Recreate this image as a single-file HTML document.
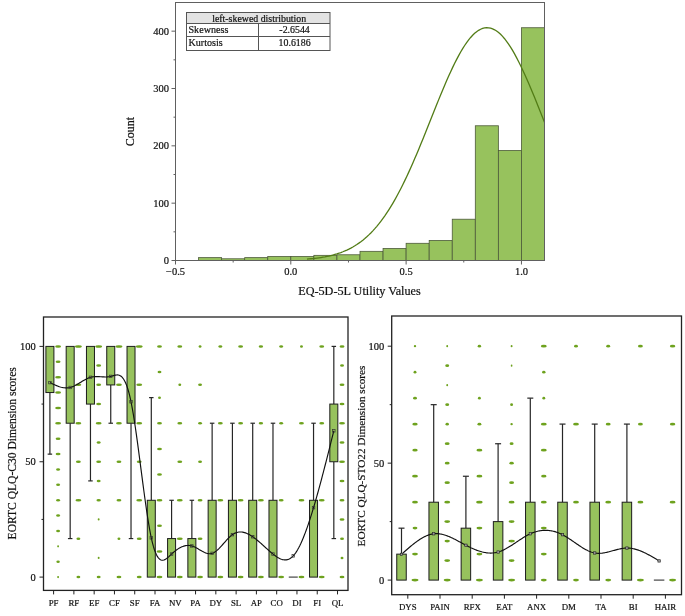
<!DOCTYPE html>
<html><head><meta charset="utf-8"><title>Figure</title>
<style>html,body{margin:0;padding:0;background:#fff}svg{display:block}</style></head>
<body><svg width="685" height="616" viewBox="0 0 685 616">
<rect width="685" height="616" fill="#fff"/>
<g id="top">
<rect x="198.56" y="257.63" width="23.06" height="2.87" fill="#97c25d" stroke="#4d5a3a" stroke-width="0.8"/>
<rect x="221.62" y="258.78" width="23.06" height="1.72" fill="#97c25d" stroke="#4d5a3a" stroke-width="0.8"/>
<rect x="244.69" y="257.63" width="23.06" height="2.87" fill="#97c25d" stroke="#4d5a3a" stroke-width="0.8"/>
<rect x="267.75" y="256.49" width="23.06" height="4.01" fill="#97c25d" stroke="#4d5a3a" stroke-width="0.8"/>
<rect x="290.81" y="256.49" width="23.06" height="4.01" fill="#97c25d" stroke="#4d5a3a" stroke-width="0.8"/>
<rect x="313.88" y="255.34" width="23.06" height="5.16" fill="#97c25d" stroke="#4d5a3a" stroke-width="0.8"/>
<rect x="336.94" y="254.77" width="23.06" height="5.73" fill="#97c25d" stroke="#4d5a3a" stroke-width="0.8"/>
<rect x="360.00" y="251.33" width="23.06" height="9.17" fill="#97c25d" stroke="#4d5a3a" stroke-width="0.8"/>
<rect x="383.06" y="248.46" width="23.06" height="12.04" fill="#97c25d" stroke="#4d5a3a" stroke-width="0.8"/>
<rect x="406.12" y="243.30" width="23.06" height="17.20" fill="#97c25d" stroke="#4d5a3a" stroke-width="0.8"/>
<rect x="429.19" y="240.43" width="23.06" height="20.07" fill="#97c25d" stroke="#4d5a3a" stroke-width="0.8"/>
<rect x="452.25" y="219.22" width="23.06" height="41.28" fill="#97c25d" stroke="#4d5a3a" stroke-width="0.8"/>
<rect x="475.31" y="125.77" width="23.06" height="134.73" fill="#97c25d" stroke="#4d5a3a" stroke-width="0.8"/>
<rect x="498.38" y="150.42" width="23.06" height="110.08" fill="#97c25d" stroke="#4d5a3a" stroke-width="0.8"/>
<rect x="521.44" y="27.73" width="23.06" height="232.77" fill="#97c25d" stroke="#4d5a3a" stroke-width="0.8"/>
<polyline points="306.96,259.11 308.95,258.95 310.95,258.76 312.94,258.56 314.94,258.34 316.94,258.09 318.93,257.82 320.93,257.52 322.93,257.19 324.92,256.84 326.92,256.44 328.91,256.02 330.91,255.55 332.91,255.04 334.90,254.49 336.90,253.89 338.89,253.24 340.89,252.53 342.89,251.76 344.88,250.94 346.88,250.05 348.88,249.09 350.87,248.06 352.87,246.95 354.86,245.77 356.86,244.50 358.86,243.14 360.85,241.69 362.85,240.14 364.85,238.50 366.84,236.75 368.84,234.90 370.83,232.93 372.83,230.86 374.83,228.66 376.82,226.35 378.82,223.92 380.81,221.36 382.81,218.67 384.81,215.86 386.80,212.92 388.80,209.84 390.80,206.64 392.79,203.31 394.79,199.84 396.78,196.25 398.78,192.53 400.78,188.68 402.77,184.71 404.77,180.63 406.76,176.43 408.76,172.12 410.76,167.70 412.75,163.19 414.75,158.59 416.75,153.90 418.74,149.14 420.74,144.31 422.73,139.42 424.73,134.49 426.73,129.52 428.72,124.53 430.72,119.52 432.71,114.52 434.71,109.52 436.71,104.56 438.70,99.63 440.70,94.75 442.70,89.94 444.69,85.21 446.69,80.58 448.68,76.05 450.68,71.66 452.68,67.39 454.67,63.29 456.67,59.34 458.66,55.58 460.66,52.01 462.66,48.64 464.65,45.49 466.65,42.57 468.65,39.88 470.64,37.44 472.64,35.26 474.63,33.35 476.63,31.70 478.63,30.33 480.62,29.25 482.62,28.46 484.62,27.95 486.61,27.73 488.61,27.81 490.60,28.18 492.60,28.85 494.60,29.80 496.59,31.03 498.59,32.55 500.58,34.34 502.58,36.40 504.58,38.72 506.57,41.29 508.57,44.10 510.57,47.15 512.56,50.42 514.56,53.90 516.55,57.57 518.55,61.43 520.55,65.47 522.54,69.66 524.54,74.00 526.53,78.46 528.53,83.05 530.53,87.73 532.52,92.51 534.52,97.36 536.52,102.26 538.51,107.21 540.51,112.20 542.50,117.20 544.50,122.21" fill="none" stroke="#527c16" stroke-width="1.3"/>
<rect x="175.5" y="2.5" width="369.0" height="258.0" fill="none" stroke="#606060" stroke-width="1"/>
<line x1="171.5" y1="260.50" x2="175.5" y2="260.50" stroke="#606060" stroke-width="1"/>
<text x="169.0" y="264.00" text-anchor="end" font-size="10.5" font-family="Liberation Serif, serif" stroke="#111" stroke-width="0.2" fill="#111">0</text>
<line x1="171.5" y1="203.17" x2="175.5" y2="203.17" stroke="#606060" stroke-width="1"/>
<text x="169.0" y="206.67" text-anchor="end" font-size="10.5" font-family="Liberation Serif, serif" stroke="#111" stroke-width="0.2" fill="#111">100</text>
<line x1="171.5" y1="145.83" x2="175.5" y2="145.83" stroke="#606060" stroke-width="1"/>
<text x="169.0" y="149.33" text-anchor="end" font-size="10.5" font-family="Liberation Serif, serif" stroke="#111" stroke-width="0.2" fill="#111">200</text>
<line x1="171.5" y1="88.50" x2="175.5" y2="88.50" stroke="#606060" stroke-width="1"/>
<text x="169.0" y="92.00" text-anchor="end" font-size="10.5" font-family="Liberation Serif, serif" stroke="#111" stroke-width="0.2" fill="#111">300</text>
<line x1="171.5" y1="31.17" x2="175.5" y2="31.17" stroke="#606060" stroke-width="1"/>
<text x="169.0" y="34.67" text-anchor="end" font-size="10.5" font-family="Liberation Serif, serif" stroke="#111" stroke-width="0.2" fill="#111">400</text>
<line x1="173.5" y1="231.83" x2="175.5" y2="231.83" stroke="#606060" stroke-width="1"/>
<line x1="173.5" y1="174.50" x2="175.5" y2="174.50" stroke="#606060" stroke-width="1"/>
<line x1="173.5" y1="117.17" x2="175.5" y2="117.17" stroke="#606060" stroke-width="1"/>
<line x1="173.5" y1="59.83" x2="175.5" y2="59.83" stroke="#606060" stroke-width="1"/>
<line x1="175.50" y1="260.5" x2="175.50" y2="264.5" stroke="#606060" stroke-width="1"/>
<text x="175.50" y="274.6" text-anchor="middle" font-size="10.5" font-family="Liberation Serif, serif" stroke="#111" stroke-width="0.2" fill="#111">−0.5</text>
<line x1="290.81" y1="260.5" x2="290.81" y2="264.5" stroke="#606060" stroke-width="1"/>
<text x="290.81" y="274.6" text-anchor="middle" font-size="10.5" font-family="Liberation Serif, serif" stroke="#111" stroke-width="0.2" fill="#111">0.0</text>
<line x1="406.12" y1="260.5" x2="406.12" y2="264.5" stroke="#606060" stroke-width="1"/>
<text x="406.12" y="274.6" text-anchor="middle" font-size="10.5" font-family="Liberation Serif, serif" stroke="#111" stroke-width="0.2" fill="#111">0.5</text>
<line x1="521.44" y1="260.5" x2="521.44" y2="264.5" stroke="#606060" stroke-width="1"/>
<text x="521.44" y="274.6" text-anchor="middle" font-size="10.5" font-family="Liberation Serif, serif" stroke="#111" stroke-width="0.2" fill="#111">1.0</text>
<line x1="233.16" y1="260.5" x2="233.16" y2="262.5" stroke="#606060" stroke-width="1"/>
<line x1="348.47" y1="260.5" x2="348.47" y2="262.5" stroke="#606060" stroke-width="1"/>
<line x1="463.78" y1="260.5" x2="463.78" y2="262.5" stroke="#606060" stroke-width="1"/>
<text x="359.5" y="294.6" text-anchor="middle" font-size="12.2" font-family="Liberation Serif, serif" stroke="#111" stroke-width="0.2" fill="#111">EQ-5D-5L Utility Values</text>
<text transform="translate(133.5,131.7) rotate(-90)" text-anchor="middle" font-size="12" font-family="Liberation Serif, serif" stroke="#111" stroke-width="0.2" fill="#111">Count</text>
<rect x="186.5" y="12.5" width="143.5" height="11" fill="#e3e3e3"/>
<rect x="186.5" y="12.5" width="143.5" height="38" fill="none" stroke="#555" stroke-width="1"/>
<line x1="186.5" y1="23.5" x2="330" y2="23.5" stroke="#555" stroke-width="1"/>
<line x1="186.5" y1="36.5" x2="330" y2="36.5" stroke="#555" stroke-width="1"/>
<line x1="258.5" y1="23.5" x2="258.5" y2="50.5" stroke="#555" stroke-width="1"/>
<text x="259.2" y="21.7" text-anchor="middle" font-size="9.9" font-family="Liberation Serif, serif" stroke="#111" stroke-width="0.2" fill="#111">left-skewed distribution</text>
<text x="188.5" y="33.0" font-size="10.1" font-family="Liberation Serif, serif" stroke="#111" stroke-width="0.2" fill="#111">Skewness</text>
<text x="188.5" y="46.4" font-size="10.1" font-family="Liberation Serif, serif" stroke="#111" stroke-width="0.2" fill="#111">Kurtosis</text>
<text x="294.6" y="33.0" text-anchor="middle" font-size="9.9" font-family="Liberation Serif, serif" stroke="#111" stroke-width="0.2" fill="#111">-2.6544</text>
<text x="294.6" y="46.4" text-anchor="middle" font-size="9.9" font-family="Liberation Serif, serif" stroke="#111" stroke-width="0.2" fill="#111">10.6186</text>
</g>
<g id="left">
<ellipse cx="58.10" cy="346.40" rx="2.95" ry="1.25" fill="#6ea21e"/>
<ellipse cx="58.10" cy="361.78" rx="2.45" ry="1.25" fill="#6ea21e"/>
<ellipse cx="58.10" cy="377.16" rx="2.95" ry="1.25" fill="#6ea21e"/>
<ellipse cx="58.10" cy="392.54" rx="2.95" ry="1.25" fill="#6ea21e"/>
<ellipse cx="58.10" cy="407.92" rx="2.95" ry="1.25" fill="#6ea21e"/>
<ellipse cx="58.10" cy="423.30" rx="2.95" ry="1.25" fill="#6ea21e"/>
<ellipse cx="58.10" cy="438.68" rx="2.45" ry="1.25" fill="#6ea21e"/>
<ellipse cx="58.10" cy="454.06" rx="2.45" ry="1.25" fill="#6ea21e"/>
<ellipse cx="58.10" cy="469.44" rx="1.95" ry="1.25" fill="#6ea21e"/>
<ellipse cx="58.10" cy="484.82" rx="1.95" ry="1.25" fill="#6ea21e"/>
<ellipse cx="58.10" cy="500.20" rx="1.95" ry="1.25" fill="#6ea21e"/>
<ellipse cx="58.10" cy="515.58" rx="1.95" ry="1.25" fill="#6ea21e"/>
<ellipse cx="58.10" cy="530.96" rx="1.95" ry="1.25" fill="#6ea21e"/>
<ellipse cx="58.10" cy="546.34" rx="0.95" ry="1.05" fill="#6ea21e"/>
<ellipse cx="58.10" cy="561.72" rx="1.70" ry="1.25" fill="#6ea21e"/>
<ellipse cx="58.10" cy="577.10" rx="0.95" ry="1.05" fill="#6ea21e"/>
<ellipse cx="78.38" cy="346.40" rx="3.45" ry="1.25" fill="#6ea21e"/>
<ellipse cx="78.38" cy="384.85" rx="2.95" ry="1.25" fill="#6ea21e"/>
<ellipse cx="78.38" cy="423.30" rx="2.95" ry="1.25" fill="#6ea21e"/>
<ellipse cx="78.38" cy="461.75" rx="2.45" ry="1.25" fill="#6ea21e"/>
<ellipse cx="78.38" cy="500.20" rx="2.95" ry="1.25" fill="#6ea21e"/>
<ellipse cx="78.38" cy="538.65" rx="1.95" ry="1.25" fill="#6ea21e"/>
<ellipse cx="78.38" cy="577.10" rx="1.95" ry="1.25" fill="#6ea21e"/>
<ellipse cx="98.66" cy="346.40" rx="3.45" ry="1.25" fill="#6ea21e"/>
<ellipse cx="98.66" cy="365.62" rx="2.45" ry="1.25" fill="#6ea21e"/>
<ellipse cx="98.66" cy="384.85" rx="2.45" ry="1.25" fill="#6ea21e"/>
<ellipse cx="98.66" cy="404.07" rx="2.45" ry="1.25" fill="#6ea21e"/>
<ellipse cx="98.66" cy="423.30" rx="2.95" ry="1.25" fill="#6ea21e"/>
<ellipse cx="98.66" cy="442.52" rx="1.95" ry="1.25" fill="#6ea21e"/>
<ellipse cx="98.66" cy="461.75" rx="2.45" ry="1.25" fill="#6ea21e"/>
<ellipse cx="98.66" cy="480.98" rx="1.95" ry="1.25" fill="#6ea21e"/>
<ellipse cx="98.66" cy="500.20" rx="2.20" ry="1.25" fill="#6ea21e"/>
<ellipse cx="98.66" cy="519.42" rx="0.95" ry="1.05" fill="#6ea21e"/>
<ellipse cx="98.66" cy="557.88" rx="0.95" ry="1.05" fill="#6ea21e"/>
<ellipse cx="98.66" cy="577.10" rx="1.95" ry="1.25" fill="#6ea21e"/>
<ellipse cx="118.94" cy="346.40" rx="3.45" ry="1.25" fill="#6ea21e"/>
<ellipse cx="118.94" cy="384.85" rx="2.95" ry="1.25" fill="#6ea21e"/>
<ellipse cx="118.94" cy="423.30" rx="2.95" ry="1.25" fill="#6ea21e"/>
<ellipse cx="118.94" cy="461.75" rx="2.45" ry="1.25" fill="#6ea21e"/>
<ellipse cx="118.94" cy="500.20" rx="2.45" ry="1.25" fill="#6ea21e"/>
<ellipse cx="118.94" cy="538.65" rx="1.45" ry="1.25" fill="#6ea21e"/>
<ellipse cx="118.94" cy="577.10" rx="2.45" ry="1.25" fill="#6ea21e"/>
<ellipse cx="139.22" cy="346.40" rx="3.45" ry="1.25" fill="#6ea21e"/>
<ellipse cx="139.22" cy="384.85" rx="2.95" ry="1.25" fill="#6ea21e"/>
<ellipse cx="139.22" cy="423.30" rx="2.95" ry="1.25" fill="#6ea21e"/>
<ellipse cx="139.22" cy="461.75" rx="2.45" ry="1.25" fill="#6ea21e"/>
<ellipse cx="139.22" cy="500.20" rx="2.95" ry="1.25" fill="#6ea21e"/>
<ellipse cx="139.22" cy="538.65" rx="2.45" ry="1.25" fill="#6ea21e"/>
<ellipse cx="139.22" cy="577.10" rx="2.45" ry="1.25" fill="#6ea21e"/>
<ellipse cx="159.50" cy="346.40" rx="2.45" ry="1.25" fill="#6ea21e"/>
<ellipse cx="159.50" cy="372.03" rx="1.95" ry="1.25" fill="#6ea21e"/>
<ellipse cx="159.50" cy="397.67" rx="1.45" ry="1.25" fill="#6ea21e"/>
<ellipse cx="159.50" cy="423.30" rx="2.45" ry="1.25" fill="#6ea21e"/>
<ellipse cx="159.50" cy="448.93" rx="2.45" ry="1.25" fill="#6ea21e"/>
<ellipse cx="159.50" cy="474.57" rx="2.45" ry="1.25" fill="#6ea21e"/>
<ellipse cx="159.50" cy="500.20" rx="2.95" ry="1.25" fill="#6ea21e"/>
<ellipse cx="159.50" cy="525.83" rx="2.45" ry="1.25" fill="#6ea21e"/>
<ellipse cx="159.50" cy="551.47" rx="2.95" ry="1.25" fill="#6ea21e"/>
<ellipse cx="159.50" cy="577.10" rx="2.95" ry="1.25" fill="#6ea21e"/>
<ellipse cx="179.78" cy="346.40" rx="2.45" ry="1.25" fill="#6ea21e"/>
<ellipse cx="179.78" cy="384.85" rx="1.45" ry="1.25" fill="#6ea21e"/>
<ellipse cx="179.78" cy="423.30" rx="2.45" ry="1.25" fill="#6ea21e"/>
<ellipse cx="179.78" cy="461.75" rx="2.45" ry="1.25" fill="#6ea21e"/>
<ellipse cx="179.78" cy="500.20" rx="2.95" ry="1.25" fill="#6ea21e"/>
<ellipse cx="179.78" cy="538.65" rx="2.95" ry="1.25" fill="#6ea21e"/>
<ellipse cx="179.78" cy="577.10" rx="2.95" ry="1.25" fill="#6ea21e"/>
<ellipse cx="200.06" cy="346.40" rx="1.45" ry="1.25" fill="#6ea21e"/>
<ellipse cx="200.06" cy="384.85" rx="1.95" ry="1.25" fill="#6ea21e"/>
<ellipse cx="200.06" cy="423.30" rx="1.95" ry="1.25" fill="#6ea21e"/>
<ellipse cx="200.06" cy="461.75" rx="1.95" ry="1.25" fill="#6ea21e"/>
<ellipse cx="200.06" cy="500.20" rx="2.45" ry="1.25" fill="#6ea21e"/>
<ellipse cx="200.06" cy="538.65" rx="2.45" ry="1.25" fill="#6ea21e"/>
<ellipse cx="200.06" cy="577.10" rx="2.95" ry="1.25" fill="#6ea21e"/>
<ellipse cx="220.34" cy="346.40" rx="1.95" ry="1.25" fill="#6ea21e"/>
<ellipse cx="220.34" cy="423.30" rx="2.45" ry="1.25" fill="#6ea21e"/>
<ellipse cx="220.34" cy="500.20" rx="2.95" ry="1.25" fill="#6ea21e"/>
<ellipse cx="220.34" cy="577.10" rx="2.95" ry="1.25" fill="#6ea21e"/>
<ellipse cx="240.62" cy="346.40" rx="2.45" ry="1.25" fill="#6ea21e"/>
<ellipse cx="240.62" cy="423.30" rx="2.45" ry="1.25" fill="#6ea21e"/>
<ellipse cx="240.62" cy="500.20" rx="2.95" ry="1.25" fill="#6ea21e"/>
<ellipse cx="240.62" cy="577.10" rx="2.95" ry="1.25" fill="#6ea21e"/>
<ellipse cx="260.90" cy="346.40" rx="2.20" ry="1.25" fill="#6ea21e"/>
<ellipse cx="260.90" cy="423.30" rx="2.20" ry="1.25" fill="#6ea21e"/>
<ellipse cx="260.90" cy="500.20" rx="2.95" ry="1.25" fill="#6ea21e"/>
<ellipse cx="260.90" cy="577.10" rx="2.95" ry="1.25" fill="#6ea21e"/>
<ellipse cx="281.18" cy="346.40" rx="1.95" ry="1.25" fill="#6ea21e"/>
<ellipse cx="281.18" cy="423.30" rx="1.95" ry="1.25" fill="#6ea21e"/>
<ellipse cx="281.18" cy="500.20" rx="2.45" ry="1.25" fill="#6ea21e"/>
<ellipse cx="281.18" cy="577.10" rx="2.95" ry="1.25" fill="#6ea21e"/>
<ellipse cx="301.46" cy="346.40" rx="1.45" ry="1.25" fill="#6ea21e"/>
<ellipse cx="301.46" cy="423.30" rx="2.45" ry="1.25" fill="#6ea21e"/>
<ellipse cx="301.46" cy="500.20" rx="2.95" ry="1.25" fill="#6ea21e"/>
<ellipse cx="301.46" cy="577.10" rx="2.95" ry="1.25" fill="#6ea21e"/>
<ellipse cx="321.74" cy="346.40" rx="2.45" ry="1.25" fill="#6ea21e"/>
<ellipse cx="321.74" cy="423.30" rx="2.45" ry="1.25" fill="#6ea21e"/>
<ellipse cx="321.74" cy="500.20" rx="2.95" ry="1.25" fill="#6ea21e"/>
<ellipse cx="321.74" cy="577.10" rx="2.95" ry="1.25" fill="#6ea21e"/>
<ellipse cx="342.02" cy="346.40" rx="2.45" ry="1.25" fill="#6ea21e"/>
<ellipse cx="342.02" cy="365.62" rx="1.95" ry="1.25" fill="#6ea21e"/>
<ellipse cx="342.02" cy="384.85" rx="2.45" ry="1.25" fill="#6ea21e"/>
<ellipse cx="342.02" cy="404.07" rx="2.45" ry="1.25" fill="#6ea21e"/>
<ellipse cx="342.02" cy="423.30" rx="2.95" ry="1.25" fill="#6ea21e"/>
<ellipse cx="342.02" cy="442.52" rx="2.45" ry="1.25" fill="#6ea21e"/>
<ellipse cx="342.02" cy="461.75" rx="2.95" ry="1.25" fill="#6ea21e"/>
<ellipse cx="342.02" cy="480.98" rx="2.45" ry="1.25" fill="#6ea21e"/>
<ellipse cx="342.02" cy="500.20" rx="2.45" ry="1.25" fill="#6ea21e"/>
<ellipse cx="342.02" cy="519.42" rx="2.45" ry="1.25" fill="#6ea21e"/>
<ellipse cx="342.02" cy="538.65" rx="1.95" ry="1.25" fill="#6ea21e"/>
<ellipse cx="342.02" cy="557.88" rx="1.45" ry="1.25" fill="#6ea21e"/>
<ellipse cx="342.02" cy="577.10" rx="2.45" ry="1.25" fill="#6ea21e"/>
<line x1="49.90" y1="392.54" x2="49.90" y2="454.14" stroke="#262626" stroke-width="1.2"/>
<line x1="47.65" y1="454.14" x2="52.15" y2="454.14" stroke="#262626" stroke-width="1.2"/>
<rect x="45.90" y="346.40" width="8.00" height="46.14" fill="#97c25d" stroke="#1c1c1c" stroke-width="1"/>
<line x1="70.18" y1="423.22" x2="70.18" y2="538.57" stroke="#262626" stroke-width="1.2"/>
<line x1="67.93" y1="538.57" x2="72.43" y2="538.57" stroke="#262626" stroke-width="1.2"/>
<rect x="66.18" y="346.40" width="8.00" height="76.82" fill="#97c25d" stroke="#1c1c1c" stroke-width="1"/>
<line x1="90.46" y1="404.07" x2="90.46" y2="480.90" stroke="#262626" stroke-width="1.2"/>
<line x1="88.21" y1="480.90" x2="92.71" y2="480.90" stroke="#262626" stroke-width="1.2"/>
<rect x="86.46" y="346.40" width="8.00" height="57.68" fill="#97c25d" stroke="#1c1c1c" stroke-width="1"/>
<line x1="110.74" y1="384.93" x2="110.74" y2="423.22" stroke="#262626" stroke-width="1.2"/>
<line x1="108.49" y1="423.22" x2="112.99" y2="423.22" stroke="#262626" stroke-width="1.2"/>
<rect x="106.74" y="346.40" width="8.00" height="38.53" fill="#97c25d" stroke="#1c1c1c" stroke-width="1"/>
<line x1="131.02" y1="423.22" x2="131.02" y2="538.57" stroke="#262626" stroke-width="1.2"/>
<line x1="128.77" y1="538.57" x2="133.27" y2="538.57" stroke="#262626" stroke-width="1.2"/>
<rect x="127.02" y="346.40" width="8.00" height="76.82" fill="#97c25d" stroke="#1c1c1c" stroke-width="1"/>
<line x1="151.30" y1="500.28" x2="151.30" y2="397.62" stroke="#262626" stroke-width="1.2"/>
<line x1="149.05" y1="397.62" x2="153.55" y2="397.62" stroke="#262626" stroke-width="1.2"/>
<rect x="147.30" y="500.28" width="8.00" height="76.82" fill="#97c25d" stroke="#1c1c1c" stroke-width="1"/>
<line x1="171.58" y1="538.57" x2="171.58" y2="500.28" stroke="#262626" stroke-width="1.2"/>
<line x1="169.33" y1="500.28" x2="173.83" y2="500.28" stroke="#262626" stroke-width="1.2"/>
<rect x="167.58" y="538.57" width="8.00" height="38.53" fill="#97c25d" stroke="#1c1c1c" stroke-width="1"/>
<line x1="191.86" y1="538.57" x2="191.86" y2="500.28" stroke="#262626" stroke-width="1.2"/>
<line x1="189.61" y1="500.28" x2="194.11" y2="500.28" stroke="#262626" stroke-width="1.2"/>
<rect x="187.86" y="538.57" width="8.00" height="38.53" fill="#97c25d" stroke="#1c1c1c" stroke-width="1"/>
<line x1="212.14" y1="500.28" x2="212.14" y2="423.22" stroke="#262626" stroke-width="1.2"/>
<line x1="209.89" y1="423.22" x2="214.39" y2="423.22" stroke="#262626" stroke-width="1.2"/>
<rect x="208.14" y="500.28" width="8.00" height="76.82" fill="#97c25d" stroke="#1c1c1c" stroke-width="1"/>
<line x1="232.42" y1="500.28" x2="232.42" y2="423.22" stroke="#262626" stroke-width="1.2"/>
<line x1="230.17" y1="423.22" x2="234.67" y2="423.22" stroke="#262626" stroke-width="1.2"/>
<rect x="228.42" y="500.28" width="8.00" height="76.82" fill="#97c25d" stroke="#1c1c1c" stroke-width="1"/>
<line x1="252.70" y1="500.28" x2="252.70" y2="423.22" stroke="#262626" stroke-width="1.2"/>
<line x1="250.45" y1="423.22" x2="254.95" y2="423.22" stroke="#262626" stroke-width="1.2"/>
<rect x="248.70" y="500.28" width="8.00" height="76.82" fill="#97c25d" stroke="#1c1c1c" stroke-width="1"/>
<line x1="272.98" y1="500.28" x2="272.98" y2="423.22" stroke="#262626" stroke-width="1.2"/>
<line x1="270.73" y1="423.22" x2="275.23" y2="423.22" stroke="#262626" stroke-width="1.2"/>
<rect x="268.98" y="500.28" width="8.00" height="76.82" fill="#97c25d" stroke="#1c1c1c" stroke-width="1"/>
<line x1="288.76" y1="577.10" x2="297.76" y2="577.10" stroke="#444" stroke-width="1.2"/>
<line x1="313.54" y1="500.28" x2="313.54" y2="423.22" stroke="#262626" stroke-width="1.2"/>
<line x1="311.29" y1="423.22" x2="315.79" y2="423.22" stroke="#262626" stroke-width="1.2"/>
<rect x="309.54" y="500.28" width="8.00" height="76.82" fill="#97c25d" stroke="#1c1c1c" stroke-width="1"/>
<line x1="333.82" y1="404.07" x2="333.82" y2="346.40" stroke="#262626" stroke-width="1.2"/>
<line x1="331.57" y1="346.40" x2="336.07" y2="346.40" stroke="#262626" stroke-width="1.2"/>
<line x1="333.82" y1="461.75" x2="333.82" y2="538.57" stroke="#262626" stroke-width="1.2"/>
<line x1="331.57" y1="538.57" x2="336.07" y2="538.57" stroke="#262626" stroke-width="1.2"/>
<rect x="329.82" y="404.07" width="8.00" height="57.68" fill="#97c25d" stroke="#1c1c1c" stroke-width="1"/>
<polyline points="49.90,382.62 50.85,383.08 51.80,383.53 52.75,383.98 53.70,384.41 54.65,384.84 55.60,385.25 56.55,385.64 57.50,386.01 58.45,386.36 59.40,386.68 60.35,386.97 61.29,387.23 62.24,387.45 63.19,387.63 64.14,387.77 65.09,387.86 66.04,387.91 66.99,387.90 67.94,387.84 68.89,387.72 69.84,387.54 70.79,387.30 71.74,387.00 72.69,386.64 73.64,386.24 74.59,385.79 75.54,385.30 76.49,384.79 77.44,384.24 78.39,383.68 79.34,383.11 80.29,382.52 81.24,381.93 82.19,381.35 83.13,380.78 84.08,380.22 85.03,379.68 85.98,379.17 86.93,378.70 87.88,378.26 88.83,377.87 89.78,377.52 90.73,377.24 91.68,377.01 92.63,376.84 93.58,376.71 94.53,376.63 95.48,376.58 96.43,376.56 97.38,376.57 98.33,376.61 99.28,376.65 100.23,376.71 101.18,376.77 102.13,376.83 103.08,376.88 104.03,376.92 104.97,376.95 105.92,376.95 106.87,376.92 107.82,376.86 108.77,376.75 109.72,376.61 110.67,376.41 111.62,376.16 112.57,375.88 113.52,375.59 114.47,375.32 115.42,375.11 116.37,374.96 117.32,374.92 118.27,375.01 119.22,375.25 120.17,375.67 121.12,376.30 122.07,377.16 123.02,378.28 123.97,379.69 124.92,381.42 125.87,383.48 126.81,385.91 127.76,388.74 128.71,391.98 129.66,395.67 130.61,399.83 131.56,404.49 132.51,409.64 133.46,415.21 134.41,421.18 135.36,427.47 136.31,434.06 137.26,440.89 138.21,447.90 139.16,455.06 140.11,462.31 141.06,469.61 142.01,476.90 142.96,484.14 143.91,491.27 144.86,498.26 145.81,505.04 146.76,511.58 147.71,517.81 148.65,523.70 149.60,529.20 150.55,534.25 151.50,538.81 152.45,542.86 153.40,546.40 154.35,549.47 155.30,552.09 156.25,554.30 157.20,556.11 158.15,557.56 159.10,558.66 160.05,559.45 161.00,559.96 161.95,560.21 162.90,560.22 163.85,560.02 164.80,559.64 165.75,559.11 166.70,558.45 167.65,557.69 168.60,556.85 169.55,555.97 170.49,555.06 171.44,554.16 172.39,553.28 173.34,552.44 174.29,551.64 175.24,550.88 176.19,550.16 177.14,549.49 178.09,548.86 179.04,548.27 179.99,547.74 180.94,547.26 181.89,546.83 182.84,546.45 183.79,546.13 184.74,545.87 185.69,545.67 186.64,545.53 187.59,545.45 188.54,545.44 189.49,545.50 190.44,545.63 191.39,545.83 192.33,546.10 193.28,546.44 194.23,546.84 195.18,547.29 196.13,547.78 197.08,548.31 198.03,548.85 198.98,549.41 199.93,549.97 200.88,550.53 201.83,551.07 202.78,551.58 203.73,552.07 204.68,552.50 205.63,552.89 206.58,553.21 207.53,553.46 208.48,553.63 209.43,553.70 210.38,553.68 211.33,553.55 212.28,553.29 213.23,552.92 214.17,552.43 215.12,551.83 216.07,551.14 217.02,550.36 217.97,549.51 218.92,548.60 219.87,547.63 220.82,546.62 221.77,545.57 222.72,544.50 223.67,543.42 224.62,542.34 225.57,541.26 226.52,540.20 227.47,539.17 228.42,538.18 229.37,537.23 230.32,536.35 231.27,535.53 232.22,534.80 233.17,534.15 234.12,533.59 235.07,533.12 236.01,532.73 236.96,532.43 237.91,532.20 238.86,532.05 239.81,531.97 240.76,531.97 241.71,532.03 242.66,532.15 243.61,532.34 244.56,532.58 245.51,532.89 246.46,533.24 247.41,533.65 248.36,534.11 249.31,534.61 250.26,535.15 251.21,535.74 252.16,536.36 253.11,537.01 254.06,537.70 255.01,538.42 255.96,539.16 256.91,539.93 257.85,540.71 258.80,541.52 259.75,542.34 260.70,543.18 261.65,544.03 262.60,544.88 263.55,545.74 264.50,546.61 265.45,547.47 266.40,548.33 267.35,549.19 268.30,550.04 269.25,550.88 270.20,551.71 271.15,552.52 272.10,553.31 273.05,554.08 274.00,554.83 274.95,555.55 275.90,556.24 276.85,556.89 277.80,557.48 278.75,558.03 279.69,558.52 280.64,558.95 281.59,559.31 282.54,559.59 283.49,559.79 284.44,559.91 285.39,559.94 286.34,559.86 287.29,559.69 288.24,559.41 289.19,559.01 290.14,558.49 291.09,557.85 292.04,557.07 292.99,556.16 293.94,555.11 294.89,553.91 295.84,552.58 296.79,551.11 297.74,549.52 298.69,547.80 299.64,545.95 300.59,543.99 301.53,541.92 302.48,539.74 303.43,537.45 304.38,535.07 305.33,532.58 306.28,530.00 307.23,527.34 308.18,524.58 309.13,521.75 310.08,518.84 311.03,515.86 311.98,512.81 312.93,509.69 313.88,506.52 314.83,503.29 315.78,500.00 316.73,496.66 317.68,493.27 318.63,489.84 319.58,486.36 320.53,482.84 321.48,479.29 322.43,475.70 323.37,472.07 324.32,468.42 325.27,464.74 326.22,461.03 327.17,457.31 328.12,453.56 329.07,449.80 330.02,446.02 330.97,442.23 331.92,438.44 332.87,434.64 333.82,430.84" fill="none" stroke="#111" stroke-width="1.15"/>
<rect x="48.65" y="381.37" width="2.5" height="2.5" fill="none" stroke="#333" stroke-width="0.7"/>
<rect x="68.93" y="386.21" width="2.5" height="2.5" fill="none" stroke="#333" stroke-width="0.7"/>
<rect x="89.21" y="376.06" width="2.5" height="2.5" fill="none" stroke="#333" stroke-width="0.7"/>
<rect x="109.49" y="375.14" width="2.5" height="2.5" fill="none" stroke="#333" stroke-width="0.7"/>
<rect x="129.77" y="400.52" width="2.5" height="2.5" fill="none" stroke="#333" stroke-width="0.7"/>
<rect x="150.05" y="536.63" width="2.5" height="2.5" fill="none" stroke="#333" stroke-width="0.7"/>
<rect x="170.33" y="552.78" width="2.5" height="2.5" fill="none" stroke="#333" stroke-width="0.7"/>
<rect x="190.61" y="544.71" width="2.5" height="2.5" fill="none" stroke="#333" stroke-width="0.7"/>
<rect x="210.89" y="552.09" width="2.5" height="2.5" fill="none" stroke="#333" stroke-width="0.7"/>
<rect x="231.17" y="533.40" width="2.5" height="2.5" fill="none" stroke="#333" stroke-width="0.7"/>
<rect x="251.45" y="535.48" width="2.5" height="2.5" fill="none" stroke="#333" stroke-width="0.7"/>
<rect x="271.73" y="552.78" width="2.5" height="2.5" fill="none" stroke="#333" stroke-width="0.7"/>
<rect x="292.01" y="554.63" width="2.5" height="2.5" fill="none" stroke="#333" stroke-width="0.7"/>
<rect x="312.29" y="506.41" width="2.5" height="2.5" fill="none" stroke="#333" stroke-width="0.7"/>
<rect x="332.57" y="429.59" width="2.5" height="2.5" fill="none" stroke="#333" stroke-width="0.7"/>
<rect x="43.5" y="317" width="304.5" height="273.40" fill="none" stroke="#222" stroke-width="1.3"/>
<line x1="39.5" y1="577.10" x2="43.5" y2="577.10" stroke="#222" stroke-width="1"/>
<text x="35.7" y="580.60" text-anchor="end" font-size="10.5" font-family="Liberation Serif, serif" stroke="#111" stroke-width="0.2" fill="#111">0</text>
<line x1="39.5" y1="461.75" x2="43.5" y2="461.75" stroke="#222" stroke-width="1"/>
<text x="35.7" y="465.25" text-anchor="end" font-size="10.5" font-family="Liberation Serif, serif" stroke="#111" stroke-width="0.2" fill="#111">50</text>
<line x1="39.5" y1="346.40" x2="43.5" y2="346.40" stroke="#222" stroke-width="1"/>
<text x="35.7" y="349.90" text-anchor="end" font-size="10.5" font-family="Liberation Serif, serif" stroke="#111" stroke-width="0.2" fill="#111">100</text>
<line x1="41.5" y1="519.42" x2="43.5" y2="519.42" stroke="#222" stroke-width="1"/>
<line x1="41.5" y1="404.07" x2="43.5" y2="404.07" stroke="#222" stroke-width="1"/>
<line x1="53.60" y1="590.4" x2="53.60" y2="594.4" stroke="#222" stroke-width="1"/>
<text x="53.60" y="605.8" text-anchor="middle" font-size="8.8" font-family="Liberation Serif, serif" stroke="#111" stroke-width="0.2" fill="#111">PF</text>
<line x1="73.88" y1="590.4" x2="73.88" y2="594.4" stroke="#222" stroke-width="1"/>
<text x="73.88" y="605.8" text-anchor="middle" font-size="8.8" font-family="Liberation Serif, serif" stroke="#111" stroke-width="0.2" fill="#111">RF</text>
<line x1="94.16" y1="590.4" x2="94.16" y2="594.4" stroke="#222" stroke-width="1"/>
<text x="94.16" y="605.8" text-anchor="middle" font-size="8.8" font-family="Liberation Serif, serif" stroke="#111" stroke-width="0.2" fill="#111">EF</text>
<line x1="114.44" y1="590.4" x2="114.44" y2="594.4" stroke="#222" stroke-width="1"/>
<text x="114.44" y="605.8" text-anchor="middle" font-size="8.8" font-family="Liberation Serif, serif" stroke="#111" stroke-width="0.2" fill="#111">CF</text>
<line x1="134.72" y1="590.4" x2="134.72" y2="594.4" stroke="#222" stroke-width="1"/>
<text x="134.72" y="605.8" text-anchor="middle" font-size="8.8" font-family="Liberation Serif, serif" stroke="#111" stroke-width="0.2" fill="#111">SF</text>
<line x1="155.00" y1="590.4" x2="155.00" y2="594.4" stroke="#222" stroke-width="1"/>
<text x="155.00" y="605.8" text-anchor="middle" font-size="8.8" font-family="Liberation Serif, serif" stroke="#111" stroke-width="0.2" fill="#111">FA</text>
<line x1="175.28" y1="590.4" x2="175.28" y2="594.4" stroke="#222" stroke-width="1"/>
<text x="175.28" y="605.8" text-anchor="middle" font-size="8.8" font-family="Liberation Serif, serif" stroke="#111" stroke-width="0.2" fill="#111">NV</text>
<line x1="195.56" y1="590.4" x2="195.56" y2="594.4" stroke="#222" stroke-width="1"/>
<text x="195.56" y="605.8" text-anchor="middle" font-size="8.8" font-family="Liberation Serif, serif" stroke="#111" stroke-width="0.2" fill="#111">PA</text>
<line x1="215.84" y1="590.4" x2="215.84" y2="594.4" stroke="#222" stroke-width="1"/>
<text x="215.84" y="605.8" text-anchor="middle" font-size="8.8" font-family="Liberation Serif, serif" stroke="#111" stroke-width="0.2" fill="#111">DY</text>
<line x1="236.12" y1="590.4" x2="236.12" y2="594.4" stroke="#222" stroke-width="1"/>
<text x="236.12" y="605.8" text-anchor="middle" font-size="8.8" font-family="Liberation Serif, serif" stroke="#111" stroke-width="0.2" fill="#111">SL</text>
<line x1="256.40" y1="590.4" x2="256.40" y2="594.4" stroke="#222" stroke-width="1"/>
<text x="256.40" y="605.8" text-anchor="middle" font-size="8.8" font-family="Liberation Serif, serif" stroke="#111" stroke-width="0.2" fill="#111">AP</text>
<line x1="276.68" y1="590.4" x2="276.68" y2="594.4" stroke="#222" stroke-width="1"/>
<text x="276.68" y="605.8" text-anchor="middle" font-size="8.8" font-family="Liberation Serif, serif" stroke="#111" stroke-width="0.2" fill="#111">CO</text>
<line x1="296.96" y1="590.4" x2="296.96" y2="594.4" stroke="#222" stroke-width="1"/>
<text x="296.96" y="605.8" text-anchor="middle" font-size="8.8" font-family="Liberation Serif, serif" stroke="#111" stroke-width="0.2" fill="#111">DI</text>
<line x1="317.24" y1="590.4" x2="317.24" y2="594.4" stroke="#222" stroke-width="1"/>
<text x="317.24" y="605.8" text-anchor="middle" font-size="8.8" font-family="Liberation Serif, serif" stroke="#111" stroke-width="0.2" fill="#111">FI</text>
<line x1="337.52" y1="590.4" x2="337.52" y2="594.4" stroke="#222" stroke-width="1"/>
<text x="337.52" y="605.8" text-anchor="middle" font-size="8.8" font-family="Liberation Serif, serif" stroke="#111" stroke-width="0.2" fill="#111">QL</text>
<text transform="translate(15.6,453.3) rotate(-90)" text-anchor="middle" font-size="11.55" font-family="Liberation Serif, serif" stroke="#111" stroke-width="0.2" fill="#111">EORTC QLQ-C30 Dimension scores</text>
</g>
<g id="right">
<ellipse cx="415.00" cy="346.20" rx="1.20" ry="1.1500000000000001" fill="#6ea21e"/>
<ellipse cx="415.00" cy="372.19" rx="1.45" ry="1.35" fill="#6ea21e"/>
<ellipse cx="415.00" cy="398.18" rx="1.95" ry="1.35" fill="#6ea21e"/>
<ellipse cx="415.00" cy="424.17" rx="2.70" ry="1.35" fill="#6ea21e"/>
<ellipse cx="415.00" cy="450.16" rx="2.70" ry="1.35" fill="#6ea21e"/>
<ellipse cx="415.00" cy="476.14" rx="2.95" ry="1.35" fill="#6ea21e"/>
<ellipse cx="415.00" cy="502.13" rx="2.95" ry="1.35" fill="#6ea21e"/>
<ellipse cx="415.00" cy="528.12" rx="2.45" ry="1.35" fill="#6ea21e"/>
<ellipse cx="415.00" cy="554.11" rx="2.95" ry="1.35" fill="#6ea21e"/>
<ellipse cx="415.00" cy="580.10" rx="3.45" ry="1.35" fill="#6ea21e"/>
<ellipse cx="447.20" cy="346.20" rx="0.95" ry="1.1500000000000001" fill="#6ea21e"/>
<ellipse cx="447.20" cy="365.69" rx="1.95" ry="1.35" fill="#6ea21e"/>
<ellipse cx="447.20" cy="385.18" rx="0.95" ry="1.1500000000000001" fill="#6ea21e"/>
<ellipse cx="447.20" cy="404.67" rx="1.95" ry="1.35" fill="#6ea21e"/>
<ellipse cx="447.20" cy="424.17" rx="1.70" ry="1.35" fill="#6ea21e"/>
<ellipse cx="447.20" cy="443.66" rx="2.45" ry="1.35" fill="#6ea21e"/>
<ellipse cx="447.20" cy="463.15" rx="2.45" ry="1.35" fill="#6ea21e"/>
<ellipse cx="447.20" cy="482.64" rx="2.70" ry="1.35" fill="#6ea21e"/>
<ellipse cx="447.20" cy="502.13" rx="2.95" ry="1.35" fill="#6ea21e"/>
<ellipse cx="447.20" cy="521.62" rx="2.95" ry="1.35" fill="#6ea21e"/>
<ellipse cx="447.20" cy="541.12" rx="2.70" ry="1.35" fill="#6ea21e"/>
<ellipse cx="447.20" cy="560.61" rx="2.95" ry="1.35" fill="#6ea21e"/>
<ellipse cx="447.20" cy="580.10" rx="3.45" ry="1.35" fill="#6ea21e"/>
<ellipse cx="479.40" cy="346.20" rx="1.70" ry="1.35" fill="#6ea21e"/>
<ellipse cx="479.40" cy="398.18" rx="1.45" ry="1.35" fill="#6ea21e"/>
<ellipse cx="479.40" cy="424.17" rx="1.95" ry="1.35" fill="#6ea21e"/>
<ellipse cx="479.40" cy="450.16" rx="2.95" ry="1.35" fill="#6ea21e"/>
<ellipse cx="479.40" cy="476.14" rx="2.95" ry="1.35" fill="#6ea21e"/>
<ellipse cx="479.40" cy="502.13" rx="3.20" ry="1.35" fill="#6ea21e"/>
<ellipse cx="479.40" cy="528.12" rx="2.95" ry="1.35" fill="#6ea21e"/>
<ellipse cx="479.40" cy="554.11" rx="2.95" ry="1.35" fill="#6ea21e"/>
<ellipse cx="479.40" cy="580.10" rx="3.45" ry="1.35" fill="#6ea21e"/>
<ellipse cx="511.60" cy="346.20" rx="0.95" ry="1.1500000000000001" fill="#6ea21e"/>
<ellipse cx="511.60" cy="365.69" rx="0.85" ry="1.1500000000000001" fill="#6ea21e"/>
<ellipse cx="511.60" cy="404.67" rx="1.45" ry="1.35" fill="#6ea21e"/>
<ellipse cx="511.60" cy="424.17" rx="1.20" ry="1.1500000000000001" fill="#6ea21e"/>
<ellipse cx="511.60" cy="443.66" rx="1.95" ry="1.35" fill="#6ea21e"/>
<ellipse cx="511.60" cy="463.15" rx="2.20" ry="1.35" fill="#6ea21e"/>
<ellipse cx="511.60" cy="482.64" rx="2.45" ry="1.35" fill="#6ea21e"/>
<ellipse cx="511.60" cy="502.13" rx="2.95" ry="1.35" fill="#6ea21e"/>
<ellipse cx="511.60" cy="521.62" rx="2.95" ry="1.35" fill="#6ea21e"/>
<ellipse cx="511.60" cy="541.12" rx="3.20" ry="1.35" fill="#6ea21e"/>
<ellipse cx="511.60" cy="560.61" rx="2.95" ry="1.35" fill="#6ea21e"/>
<ellipse cx="511.60" cy="580.10" rx="3.45" ry="1.35" fill="#6ea21e"/>
<ellipse cx="543.80" cy="346.20" rx="2.95" ry="1.35" fill="#6ea21e"/>
<ellipse cx="543.80" cy="372.19" rx="1.70" ry="1.35" fill="#6ea21e"/>
<ellipse cx="543.80" cy="398.18" rx="1.45" ry="1.35" fill="#6ea21e"/>
<ellipse cx="543.80" cy="424.17" rx="2.95" ry="1.35" fill="#6ea21e"/>
<ellipse cx="543.80" cy="450.16" rx="2.95" ry="1.35" fill="#6ea21e"/>
<ellipse cx="543.80" cy="476.14" rx="2.70" ry="1.35" fill="#6ea21e"/>
<ellipse cx="543.80" cy="502.13" rx="2.95" ry="1.35" fill="#6ea21e"/>
<ellipse cx="543.80" cy="528.12" rx="2.95" ry="1.35" fill="#6ea21e"/>
<ellipse cx="543.80" cy="554.11" rx="2.95" ry="1.35" fill="#6ea21e"/>
<ellipse cx="543.80" cy="580.10" rx="2.95" ry="1.35" fill="#6ea21e"/>
<ellipse cx="576.00" cy="346.20" rx="1.95" ry="1.35" fill="#6ea21e"/>
<ellipse cx="576.00" cy="424.17" rx="2.95" ry="1.35" fill="#6ea21e"/>
<ellipse cx="576.00" cy="502.13" rx="2.95" ry="1.35" fill="#6ea21e"/>
<ellipse cx="576.00" cy="580.10" rx="2.95" ry="1.35" fill="#6ea21e"/>
<ellipse cx="608.20" cy="346.20" rx="1.95" ry="1.35" fill="#6ea21e"/>
<ellipse cx="608.20" cy="424.17" rx="2.45" ry="1.35" fill="#6ea21e"/>
<ellipse cx="608.20" cy="502.13" rx="2.95" ry="1.35" fill="#6ea21e"/>
<ellipse cx="608.20" cy="580.10" rx="2.95" ry="1.35" fill="#6ea21e"/>
<ellipse cx="640.40" cy="346.20" rx="2.45" ry="1.35" fill="#6ea21e"/>
<ellipse cx="640.40" cy="424.17" rx="2.45" ry="1.35" fill="#6ea21e"/>
<ellipse cx="640.40" cy="502.13" rx="2.95" ry="1.35" fill="#6ea21e"/>
<ellipse cx="640.40" cy="580.10" rx="3.45" ry="1.35" fill="#6ea21e"/>
<ellipse cx="672.60" cy="346.20" rx="2.70" ry="1.35" fill="#6ea21e"/>
<ellipse cx="672.60" cy="424.17" rx="2.70" ry="1.35" fill="#6ea21e"/>
<ellipse cx="672.60" cy="502.13" rx="2.95" ry="1.35" fill="#6ea21e"/>
<ellipse cx="672.60" cy="580.10" rx="3.45" ry="1.35" fill="#6ea21e"/>
<line x1="401.50" y1="554.14" x2="401.50" y2="528.17" stroke="#262626" stroke-width="1.2"/>
<line x1="398.50" y1="528.17" x2="404.50" y2="528.17" stroke="#262626" stroke-width="1.2"/>
<rect x="396.75" y="554.14" width="9.50" height="25.96" fill="#97c25d" stroke="#1c1c1c" stroke-width="1"/>
<line x1="433.70" y1="502.21" x2="433.70" y2="404.67" stroke="#262626" stroke-width="1.2"/>
<line x1="430.70" y1="404.67" x2="436.70" y2="404.67" stroke="#262626" stroke-width="1.2"/>
<rect x="428.95" y="502.21" width="9.50" height="77.89" fill="#97c25d" stroke="#1c1c1c" stroke-width="1"/>
<line x1="465.90" y1="528.17" x2="465.90" y2="476.25" stroke="#262626" stroke-width="1.2"/>
<line x1="462.90" y1="476.25" x2="468.90" y2="476.25" stroke="#262626" stroke-width="1.2"/>
<rect x="461.15" y="528.17" width="9.50" height="51.93" fill="#97c25d" stroke="#1c1c1c" stroke-width="1"/>
<line x1="498.10" y1="521.62" x2="498.10" y2="443.74" stroke="#262626" stroke-width="1.2"/>
<line x1="495.10" y1="443.74" x2="501.10" y2="443.74" stroke="#262626" stroke-width="1.2"/>
<rect x="493.35" y="521.62" width="9.50" height="58.48" fill="#97c25d" stroke="#1c1c1c" stroke-width="1"/>
<line x1="530.30" y1="502.21" x2="530.30" y2="398.13" stroke="#262626" stroke-width="1.2"/>
<line x1="527.30" y1="398.13" x2="533.30" y2="398.13" stroke="#262626" stroke-width="1.2"/>
<rect x="525.55" y="502.21" width="9.50" height="77.89" fill="#97c25d" stroke="#1c1c1c" stroke-width="1"/>
<line x1="562.50" y1="502.21" x2="562.50" y2="424.09" stroke="#262626" stroke-width="1.2"/>
<line x1="559.50" y1="424.09" x2="565.50" y2="424.09" stroke="#262626" stroke-width="1.2"/>
<rect x="557.75" y="502.21" width="9.50" height="77.89" fill="#97c25d" stroke="#1c1c1c" stroke-width="1"/>
<line x1="594.70" y1="502.21" x2="594.70" y2="424.09" stroke="#262626" stroke-width="1.2"/>
<line x1="591.70" y1="424.09" x2="597.70" y2="424.09" stroke="#262626" stroke-width="1.2"/>
<rect x="589.95" y="502.21" width="9.50" height="77.89" fill="#97c25d" stroke="#1c1c1c" stroke-width="1"/>
<line x1="626.90" y1="502.21" x2="626.90" y2="424.09" stroke="#262626" stroke-width="1.2"/>
<line x1="623.90" y1="424.09" x2="629.90" y2="424.09" stroke="#262626" stroke-width="1.2"/>
<rect x="622.15" y="502.21" width="9.50" height="77.89" fill="#97c25d" stroke="#1c1c1c" stroke-width="1"/>
<line x1="653.85" y1="580.10" x2="664.35" y2="580.10" stroke="#444" stroke-width="1.2"/>
<polyline points="401.50,554.37 402.36,553.60 403.22,552.82 404.08,552.05 404.95,551.28 405.81,550.52 406.67,549.76 407.53,549.00 408.39,548.25 409.25,547.51 410.12,546.78 410.98,546.06 411.84,545.35 412.70,544.65 413.56,543.96 414.42,543.29 415.28,542.63 416.15,541.99 417.01,541.36 417.87,540.75 418.73,540.16 419.59,539.59 420.45,539.03 421.32,538.50 422.18,537.99 423.04,537.51 423.90,537.05 424.76,536.61 425.62,536.20 426.48,535.81 427.35,535.46 428.21,535.13 429.07,534.83 429.93,534.57 430.79,534.33 431.65,534.13 432.52,533.96 433.38,533.83 434.24,533.73 435.10,533.67 435.96,533.64 436.82,533.64 437.68,533.68 438.55,533.75 439.41,533.84 440.27,533.97 441.13,534.12 441.99,534.30 442.85,534.50 443.72,534.73 444.58,534.98 445.44,535.25 446.30,535.55 447.16,535.86 448.02,536.19 448.88,536.54 449.75,536.90 450.61,537.28 451.47,537.67 452.33,538.08 453.19,538.49 454.05,538.92 454.92,539.36 455.78,539.80 456.64,540.25 457.50,540.71 458.36,541.17 459.22,541.64 460.08,542.11 460.95,542.58 461.81,543.05 462.67,543.52 463.53,543.98 464.39,544.45 465.25,544.91 466.12,545.36 466.98,545.81 467.84,546.25 468.70,546.68 469.56,547.11 470.42,547.52 471.28,547.93 472.15,548.32 473.01,548.71 473.87,549.08 474.73,549.44 475.59,549.79 476.45,550.12 477.32,550.44 478.18,550.74 479.04,551.03 479.90,551.30 480.76,551.56 481.62,551.80 482.48,552.02 483.35,552.21 484.21,552.39 485.07,552.55 485.93,552.69 486.79,552.81 487.65,552.91 488.52,552.98 489.38,553.03 490.24,553.05 491.10,553.05 491.96,553.02 492.82,552.97 493.68,552.89 494.55,552.78 495.41,552.65 496.27,552.48 497.13,552.29 497.99,552.06 498.85,551.81 499.72,551.52 500.58,551.21 501.44,550.87 502.30,550.50 503.16,550.11 504.02,549.70 504.88,549.27 505.75,548.82 506.61,548.34 507.47,547.86 508.33,547.35 509.19,546.84 510.05,546.31 510.92,545.77 511.78,545.21 512.64,544.66 513.50,544.09 514.36,543.52 515.22,542.95 516.08,542.37 516.95,541.79 517.81,541.21 518.67,540.64 519.53,540.07 520.39,539.50 521.25,538.94 522.12,538.39 522.98,537.84 523.84,537.31 524.70,536.79 525.56,536.28 526.42,535.79 527.28,535.31 528.15,534.85 529.01,534.41 529.87,533.99 530.73,533.59 531.59,533.22 532.45,532.87 533.32,532.54 534.18,532.23 535.04,531.95 535.90,531.68 536.76,531.45 537.62,531.23 538.48,531.04 539.35,530.87 540.21,530.72 541.07,530.59 541.93,530.49 542.79,530.41 543.65,530.35 544.52,530.32 545.38,530.31 546.24,530.32 547.10,530.35 547.96,530.41 548.82,530.48 549.68,530.58 550.55,530.71 551.41,530.85 552.27,531.02 553.13,531.21 553.99,531.42 554.85,531.66 555.72,531.91 556.58,532.19 557.44,532.50 558.30,532.82 559.16,533.17 560.02,533.54 560.88,533.93 561.75,534.34 562.61,534.78 563.47,535.24 564.33,535.72 565.19,536.21 566.05,536.73 566.92,537.26 567.78,537.80 568.64,538.36 569.50,538.93 570.36,539.50 571.22,540.09 572.08,540.68 572.95,541.28 573.81,541.87 574.67,542.47 575.53,543.07 576.39,543.67 577.25,544.26 578.12,544.85 578.98,545.43 579.84,546.01 580.70,546.57 581.56,547.12 582.42,547.66 583.28,548.18 584.15,548.69 585.01,549.18 585.87,549.65 586.73,550.10 587.59,550.53 588.45,550.93 589.32,551.31 590.18,551.65 591.04,551.97 591.90,552.26 592.76,552.52 593.62,552.74 594.48,552.93 595.35,553.08 596.21,553.19 597.07,553.27 597.93,553.32 598.79,553.33 599.65,553.32 600.52,553.28 601.38,553.21 602.24,553.12 603.10,553.01 603.96,552.87 604.82,552.72 605.68,552.55 606.55,552.37 607.41,552.17 608.27,551.97 609.13,551.75 609.99,551.52 610.85,551.29 611.72,551.05 612.58,550.81 613.44,550.57 614.30,550.33 615.16,550.10 616.02,549.87 616.88,549.64 617.75,549.42 618.61,549.21 619.47,549.02 620.33,548.83 621.19,548.67 622.05,548.51 622.92,548.38 623.78,548.27 624.64,548.18 625.50,548.11 626.36,548.07 627.22,548.05 628.08,548.07 628.95,548.11 629.81,548.18 630.67,548.27 631.53,548.39 632.39,548.53 633.25,548.70 634.12,548.89 634.98,549.10 635.84,549.34 636.70,549.59 637.56,549.86 638.42,550.16 639.28,550.47 640.15,550.80 641.01,551.14 641.87,551.50 642.73,551.88 643.59,552.27 644.45,552.68 645.32,553.09 646.18,553.52 647.04,553.97 647.90,554.42 648.76,554.88 649.62,555.35 650.48,555.83 651.35,556.32 652.21,556.81 653.07,557.31 653.93,557.82 654.79,558.33 655.65,558.84 656.52,559.36 657.38,559.88 658.24,560.40 659.10,560.92" fill="none" stroke="#111" stroke-width="1.15"/>
<rect x="400.30" y="553.17" width="2.4" height="2.4" fill="#999" stroke="#222" stroke-width="0.6"/>
<rect x="432.50" y="532.59" width="2.4" height="2.4" fill="#999" stroke="#222" stroke-width="0.6"/>
<rect x="464.70" y="544.05" width="2.4" height="2.4" fill="#999" stroke="#222" stroke-width="0.6"/>
<rect x="496.90" y="550.83" width="2.4" height="2.4" fill="#999" stroke="#222" stroke-width="0.6"/>
<rect x="529.10" y="532.59" width="2.4" height="2.4" fill="#999" stroke="#222" stroke-width="0.6"/>
<rect x="561.30" y="533.52" width="2.4" height="2.4" fill="#999" stroke="#222" stroke-width="0.6"/>
<rect x="593.50" y="551.77" width="2.4" height="2.4" fill="#999" stroke="#222" stroke-width="0.6"/>
<rect x="625.70" y="546.86" width="2.4" height="2.4" fill="#999" stroke="#222" stroke-width="0.6"/>
<rect x="657.90" y="559.72" width="2.4" height="2.4" fill="#999" stroke="#222" stroke-width="0.6"/>
<rect x="391.7" y="316" width="289.8" height="278.70" fill="none" stroke="#222" stroke-width="1.3"/>
<line x1="387.7" y1="580.10" x2="391.7" y2="580.10" stroke="#222" stroke-width="1"/>
<text x="384.3" y="583.60" text-anchor="end" font-size="10.5" font-family="Liberation Serif, serif" stroke="#111" stroke-width="0.2" fill="#111">0</text>
<line x1="387.7" y1="463.15" x2="391.7" y2="463.15" stroke="#222" stroke-width="1"/>
<text x="384.3" y="466.65" text-anchor="end" font-size="10.5" font-family="Liberation Serif, serif" stroke="#111" stroke-width="0.2" fill="#111">50</text>
<line x1="387.7" y1="346.20" x2="391.7" y2="346.20" stroke="#222" stroke-width="1"/>
<text x="384.3" y="349.70" text-anchor="end" font-size="10.5" font-family="Liberation Serif, serif" stroke="#111" stroke-width="0.2" fill="#111">100</text>
<line x1="389.7" y1="521.62" x2="391.7" y2="521.62" stroke="#222" stroke-width="1"/>
<line x1="389.7" y1="404.67" x2="391.7" y2="404.67" stroke="#222" stroke-width="1"/>
<line x1="407.80" y1="594.7" x2="407.80" y2="598.7" stroke="#222" stroke-width="1"/>
<text x="407.80" y="609.5" text-anchor="middle" font-size="8.8" font-family="Liberation Serif, serif" stroke="#111" stroke-width="0.2" fill="#111">DYS</text>
<line x1="440.00" y1="594.7" x2="440.00" y2="598.7" stroke="#222" stroke-width="1"/>
<text x="440.00" y="609.5" text-anchor="middle" font-size="8.8" font-family="Liberation Serif, serif" stroke="#111" stroke-width="0.2" fill="#111">PAIN</text>
<line x1="472.20" y1="594.7" x2="472.20" y2="598.7" stroke="#222" stroke-width="1"/>
<text x="472.20" y="609.5" text-anchor="middle" font-size="8.8" font-family="Liberation Serif, serif" stroke="#111" stroke-width="0.2" fill="#111">RFX</text>
<line x1="504.40" y1="594.7" x2="504.40" y2="598.7" stroke="#222" stroke-width="1"/>
<text x="504.40" y="609.5" text-anchor="middle" font-size="8.8" font-family="Liberation Serif, serif" stroke="#111" stroke-width="0.2" fill="#111">EAT</text>
<line x1="536.60" y1="594.7" x2="536.60" y2="598.7" stroke="#222" stroke-width="1"/>
<text x="536.60" y="609.5" text-anchor="middle" font-size="8.8" font-family="Liberation Serif, serif" stroke="#111" stroke-width="0.2" fill="#111">ANX</text>
<line x1="568.80" y1="594.7" x2="568.80" y2="598.7" stroke="#222" stroke-width="1"/>
<text x="568.80" y="609.5" text-anchor="middle" font-size="8.8" font-family="Liberation Serif, serif" stroke="#111" stroke-width="0.2" fill="#111">DM</text>
<line x1="601.00" y1="594.7" x2="601.00" y2="598.7" stroke="#222" stroke-width="1"/>
<text x="601.00" y="609.5" text-anchor="middle" font-size="8.8" font-family="Liberation Serif, serif" stroke="#111" stroke-width="0.2" fill="#111">TA</text>
<line x1="633.20" y1="594.7" x2="633.20" y2="598.7" stroke="#222" stroke-width="1"/>
<text x="633.20" y="609.5" text-anchor="middle" font-size="8.8" font-family="Liberation Serif, serif" stroke="#111" stroke-width="0.2" fill="#111">BI</text>
<line x1="665.40" y1="594.7" x2="665.40" y2="598.7" stroke="#222" stroke-width="1"/>
<text x="665.40" y="609.5" text-anchor="middle" font-size="8.8" font-family="Liberation Serif, serif" stroke="#111" stroke-width="0.2" fill="#111">HAIR</text>
<text transform="translate(365.1,456) rotate(-90)" text-anchor="middle" font-size="11.23" font-family="Liberation Serif, serif" stroke="#111" stroke-width="0.2" fill="#111">EORTC QLQ-STO22 Dimension scores</text>
</g>
</svg></body></html>
